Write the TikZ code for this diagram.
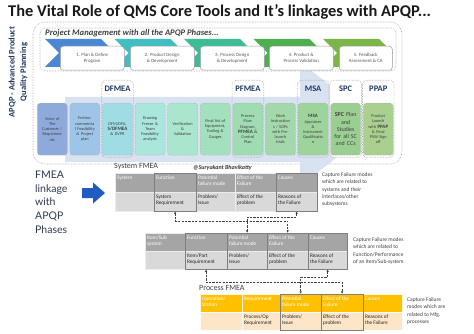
\documentclass[tikz,border=0pt]{standalone}
\usepackage{fontspec}
\setmainfont{Carlito}
\newfontfamily\latofont{Lato}
\usetikzlibrary{arrows.meta}
\definecolor{navy}{HTML}{1F3864}
\definecolor{dotgray}{HTML}{A6A6A6}
\definecolor{lblue}{HTML}{D9E2F1}
\definecolor{ch1}{HTML}{4A88D4}
\definecolor{ch2}{HTML}{3FBFC2}
\definecolor{ch3}{HTML}{3DBD97}
\definecolor{ch4}{HTML}{4CAF50}
\definecolor{ch5}{HTML}{7CB548}
\definecolor{st1}{HTML}{8EAADB}
\definecolor{st2}{HTML}{9EC5E8}
\definecolor{st3}{HTML}{9EDDE3}
\definecolor{st4}{HTML}{A9E6DC}
\definecolor{st5}{HTML}{AAE6CD}
\definecolor{st6}{HTML}{A3E0BD}
\definecolor{st7}{HTML}{9FDCB2}
\definecolor{st8}{HTML}{A3D9AA}
\definecolor{st9}{HTML}{9DD49C}
\definecolor{st10}{HTML}{9BCF91}
\definecolor{st11}{HTML}{A9D08E}
\definecolor{hgray}{HTML}{A5A5A5}
\definecolor{bgray}{HTML}{D9D9D9}
\definecolor{hamber}{HTML}{FFC000}
\definecolor{bpeach}{HTML}{FDE5C8}
\definecolor{oline}{HTML}{7F7F7F}
\definecolor{txt}{HTML}{404040}
\definecolor{darrow}{HTML}{1F5BC0}
\definecolor{leftc}{HTML}{2E3A4F}
\newcommand\fmcell[8]{%
  \node[#6, minimum width=#4pt, minimum height=#5pt] (#1) at (#2,#3) {};
  \node[#7, anchor=north west] (#1t) at ([xshift=1.5pt,yshift=-2.3pt]#1.north west) {#8};%
}
\tikzset{
  dotbox/.style={draw=dotgray, densely dotted, line width=0.6pt},
  phasebox/.style={draw=gray!80, fill=white, rounded corners=3pt, line width=0.5pt,
    minimum height=24pt, anchor=north west, align=center,
    font=\fontsize{4.8}{5.8}\selectfont, text=black!65, inner sep=0.5pt},
  stepbox/.style={draw=gray!70, densely dotted, rounded corners=3pt, line width=0.5pt,
    minimum width=30pt, minimum height=52pt, anchor=north west, align=center,
    font=\fontsize{4.3}{5.2}\selectfont, text=black!75, inner sep=0.3pt, text width=29pt},
  colbox/.style={draw=dotgray, densely dotted, line width=0.6pt, rounded corners=4pt,
    minimum width=31.6pt, minimum height=77pt, anchor=north west, inner sep=0pt},
  colhead/.style={font=\fontsize{8.5}{9}\selectfont\bfseries, text=navy, inner sep=0pt},
  cellH/.style={fill=hgray, draw=white!85!gray, line width=0.3pt, anchor=north west, inner sep=0pt},
  cellB/.style={fill=bgray, draw=white!85!gray, line width=0.3pt, anchor=north west, inner sep=0pt},
  cellPH/.style={fill=hamber, draw=white!85!hamber, line width=0.3pt, anchor=north west, inner sep=0pt},
  cellPB/.style={fill=bpeach, draw=white!85!bpeach, line width=0.3pt, anchor=north west, inner sep=0pt},
  htext/.style={font=\fontsize{5.3}{6.4}\selectfont, text=white, align=left, inner sep=0.3pt},
  btext/.style={font=\fontsize{5.3}{6.4}\selectfont, text=black!85, align=left, inner sep=0.3pt},
  hl/.style={draw=oline, line width=0.9pt},
  dconn/.style={draw=black!75, dash pattern=on 2.2pt off 1.2pt, line width=0.6pt,
    {Latex[length=2.6pt,width=2.4pt]}-{Latex[length=2.6pt,width=2.4pt]}},
  note/.style={font=\fontsize{5.5}{7.3}\selectfont, text=txt, align=left, inner sep=0pt, anchor=north west},
}
\begin{document}
\begin{tikzpicture}[x=1pt,y=-1pt]
\useasboundingbox (0,0) rectangle (474,334);
\fill[white] (0,0) rectangle (474,334);

% title
\node[anchor=base west, font=\fontsize{16.4}{19}\selectfont\bfseries, text=black!90, inner sep=0] (title) at (8,17)
  {The Vital Role of QMS Core Tools and It’s linkages with APQP...};

% left vertical title
\node[rotate=90, align=center, font=\fontsize{8.5}{11.5}\selectfont\bfseries, text=navy, inner sep=0] (apqp) at (18,72)
  {APQP - Advanced Product\\Quality Planning};

% outer dotted box
\draw[dotbox, rounded corners=12pt] (33,22) rectangle (402,164);

% light blue background arrow
\fill[lblue] (65,97) -- (300,97) -- (300,62) -- (380,124) -- (300,186) -- (300,162) -- (65,162) -- cycle;

% inner project management box
\draw[dotbox, fill=white, rounded corners=6pt] (40,28) rectangle (396,71);
\node[anchor=west, font=\fontsize{8.6}{9}\selectfont\bfseries\itshape, text=black!75, inner sep=0] (pm) at (45,33)
  {Project Management with all the APQP Phases...};

% chevrons
\foreach \i/\c in {0/ch1,1/ch2,2/ch3,3/ch4,4/ch5}{
  \pgfmathsetmacro\xo{45+69.5*\i}
  \fill[\c] (\xo,39) -- (\xo+56,39) -- (\xo+70,53) -- (\xo+56,67) -- (\xo,67) -- (\xo+14,53) -- cycle;
}
\node[phasebox, minimum width=64pt] (ph1) at (60,46) {1. Plan \& Define\\Program};
\node[phasebox, minimum width=64pt] (ph2) at (130,46) {2. Product Design\\\& Development};
\node[phasebox, minimum width=64pt] (ph3) at (200,46) {3. Process Design\\\& Development};
\node[phasebox, minimum width=64pt] (ph4) at (269,46) {4. Product \&\\Process Validation};
\node[phasebox, minimum width=53pt] (ph5) at (339,46) {5. Feedback\\Assessment \& CA};

% column boxes
\node[colbox] (cDF) at (101.4,80) {};
\node[colbox] (cPF) at (231.8,80) {};
\node[colbox] (cMS) at (297.0,80) {};
\node[colbox, fill=white] (cSP) at (329.6,80) {};
\node[colbox, fill=white] (cPP) at (362.2,80) {};
\node[colhead] (hDF) at ([yshift=-8.7pt]cDF.north) {DFMEA};
\node[colhead] (hPF) at ([yshift=-8.7pt]cPF.north) {PFMEA};
\node[colhead] (hMS) at ([yshift=-8.7pt]cMS.north) {MSA};
\node[colhead] (hSP) at ([yshift=-8.7pt]cSP.north) {SPC};
\node[colhead] (hPP) at ([yshift=-8.7pt]cPP.north) {PPAP};

% step boxes
\node[stepbox, fill=st1] (s1) at (37,103) {Voice of\\The\\Customer /\\Requireme\\nts};
\node[stepbox, fill=st2] (s2) at (69.6,103) {Techno-\\commercia\\l Feasibility\\\& Project\\plan};
\node[stepbox, fill=st3] (s3) at (102.2,103) {DFM/DFA,\\{\fontsize{5}{6}\selectfont\textbf{S/DFMEA}}\\\& DVPR};
\node[stepbox, fill=st4] (s4) at (134.8,103) {Drawing\\Freeze \&\\Team\\Feasibility\\analysis};
\node[stepbox, fill=st5] (s5) at (167.4,103) {Verification\\\&\\Validation};
\node[stepbox, fill=st6] (s6) at (200,103) {Final list of\\Equipment,\\Tooling \&\\Gauges};
\node[stepbox, fill=st7] (s7) at (232.6,103) {Process\\Flow\\Diagram,\\{\fontsize{5}{6}\selectfont\textbf{PFMEA} \&}\\Control\\Plan};
\node[stepbox, fill=st8] (s8) at (265.2,103) {Work\\Instruction\\s / SOPs\\with Pre-\\launch\\trials};
\node[stepbox, fill=st9] (s9) at (297.8,103) {{\fontsize{5}{6}\selectfont\textbf{MSA}}\\Appraiser\\\&\\Instrument\\Qualificatio\\n};
\node[stepbox, fill=st10, font=\fontsize{6}{7.2}\selectfont] (s10) at (330.4,103) {\textbf{SPC} Plan\\and\\Studies\\for all SC\\and CCs};
\node[stepbox, fill=st11] (s11) at (363,103) {Product\\Launch\\with {\fontsize{5}{6}\selectfont\textbf{PPAP}}\\\& Final\\PSW Sign\\off};

% left text and blue arrow
\node[anchor=north west, align=left, font=\latofont\fontsize{10.5}{13.6}\selectfont, text=leftc, inner sep=0] (fmeal) at (35,171)
  {FMEA\\linkage\\with\\APQP\\Phases};
\fill[darrow] (82,188) -- (93,188) -- (93,182.5) -- (105,193) -- (93,203.5) -- (93,198) -- (82,198) -- cycle;

% labels
\node[anchor=west, font=\fontsize{8}{9}\selectfont, text=txt, inner sep=0] (lsys) at (114,166.5) {System FMEA};
\node[anchor=west, font=\fontsize{6}{7}\selectfont\bfseries\itshape, text=black!80, inner sep=0] (wm) at (193,168) {@Suryakant Bhavikatty};
\node[anchor=west, font=\fontsize{8}{9}\selectfont, text=txt, inner sep=0] (lpro) at (199,288) {Process FMEA};

% System FMEA table
\fmcell{sSh}{115}{173}{39}{19}{cellH}{htext}{System}
\fmcell{sFh}{154}{173}{42}{19}{cellH}{htext}{Function}
\fmcell{sPh}{196}{173}{39}{19}{cellH}{htext}{Potential\\failure mode}
\fmcell{sEh}{235}{173}{41}{19}{cellH}{htext}{Effect of the\\Failure}
\fmcell{sCh}{276}{173}{41}{19}{cellH}{htext}{Causes}
\fmcell{sSb}{115}{192}{39}{19}{cellB}{btext}{}
\fmcell{sFb}{154}{192}{42}{19}{cellB}{btext}{System\\Requirement}
\fmcell{sPb}{196}{192}{39}{19}{cellB}{btext}{Problem/\\Issue}
\fmcell{sEb}{235}{192}{41}{19}{cellB}{btext}{Effect of the\\problem}
\fmcell{sCb}{276}{192}{41}{19}{cellB}{btext}{Reasons of\\the Failure}
\draw[hl] (sFh.north west) rectangle (sFb.south east);
\draw[hl] (sCh.north west) rectangle (sCb.south east);

% Design FMEA table
\fmcell{dSh}{145}{233}{40}{18}{cellH}{htext}{Item/Sub\\system}
\fmcell{dFh}{185}{233}{42}{18}{cellH}{htext}{Function}
\fmcell{dPh}{227}{233}{40}{18}{cellH}{htext}{Potential\\failure mode}
\fmcell{dEh}{267}{233}{41}{18}{cellH}{htext}{Effect of the\\Failure}
\fmcell{dCh}{308}{233}{39}{18}{cellH}{htext}{Causes}
\fmcell{dSb}{145}{251}{40}{18}{cellB}{btext}{}
\fmcell{dFb}{185}{251}{42}{18}{cellB}{btext}{Item/Part\\Requirement}
\fmcell{dPb}{227}{251}{40}{18}{cellB}{btext}{Problem/\\Issue}
\fmcell{dEb}{267}{251}{41}{18}{cellB}{btext}{Effect of the\\problem}
\fmcell{dCb}{308}{251}{39}{18}{cellB}{btext}{Reasons of\\the Failure}
\draw[hl] (dFh.north west) rectangle (dFb.south east);
\draw[hl] (dPh.north west) rectangle (dPb.south east);
\draw[hl] (dEh.north west) rectangle (dEb.south east);
\draw[hl] (dCh.north west) rectangle (dCb.south east);

% Process FMEA table
\fmcell{pSh}{200}{294}{42}{18}{cellPH}{htext}{Operation/\\Station}
\fmcell{pRh}{242}{294}{38}{18}{cellPH}{htext}{Requirement}
\fmcell{pPh}{280}{294}{41}{18}{cellPH}{htext}{Potential\\failure mode}
\fmcell{pEh}{321}{294}{42}{18}{cellPH}{htext}{Effect of the\\Failure}
\fmcell{pCh}{363}{294}{39}{18}{cellPH}{htext}{Causes}
\fmcell{pSb}{200}{312}{42}{18}{cellPB}{btext}{}
\fmcell{pRb}{242}{312}{38}{18}{cellPB}{btext}{Process/Op\\Requirement}
\fmcell{pPb}{280}{312}{41}{18}{cellPB}{btext}{Problem/\\Issue}
\fmcell{pEb}{321}{312}{42}{18}{cellPB}{btext}{Effect of the\\problem}
\fmcell{pCb}{363}{312}{39}{18}{cellPB}{btext}{Reasons of\\the Failure}
\draw[hl] (pPh.north west) rectangle (pPb.south east);
\draw[hl] (pEh.north west) rectangle (pEb.south east);

% notes
\node[note] (n1) at (322,172.5) {Capture Failure modes\\which are related to\\systems and their\\interfaces/other\\subsystems};
\node[note] (n2) at (353,237.5) {Capture Failure modes\\which are related to\\Function/Performance\\of an item/Sub-system};
\node[note] (n3) at (407,297.5) {Capture Failure\\modes which are\\related to Mfg.\\processes};

% dashed linkages
\draw[dconn] (sFb.south) -- ++(0,9.5) -| (dEh.north);
\draw[dconn] (sCb.south) -- ++(0,5.5) -| (dPh.north);
\draw[dconn] (dFb.south) -- ++(0,13) -| (pEh.north);
\draw[dconn] (dCb.south) -- ++(0,8) -| (pPh.north);
\end{tikzpicture}
\end{document}
